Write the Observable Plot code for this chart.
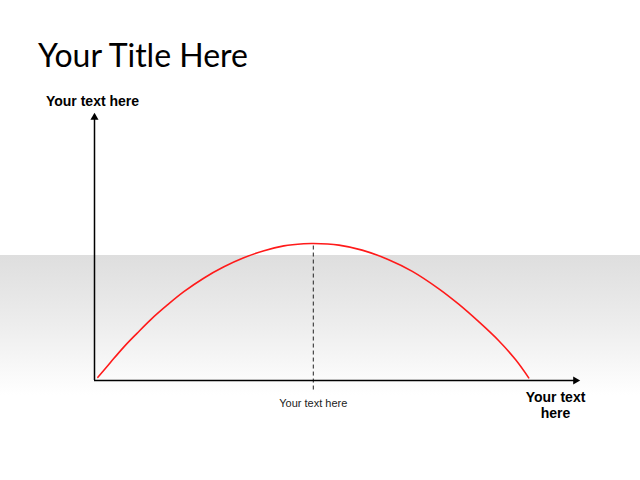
<!DOCTYPE html>
<html>
<head>
<meta charset="utf-8">
<script src="https://cdn.jsdelivr.net/npm/d3@7"></script>
<script src="https://cdn.jsdelivr.net/npm/@observablehq/plot@0.6"></script>
<style>
  html, body { margin: 0; padding: 0; background: #fff; }
  #wrap { position: relative; width: 640px; height: 480px; overflow: hidden; }
  #band { position: absolute; left: 0; top: 255px; width: 640px; height: 140px;
          background: linear-gradient(to bottom, #dedede 0%, #ededed 50%, #ffffff 100%); }
  #title { position: absolute; left: 38px; top: 39px; font-family: Lato, "Open Sans", sans-serif;
           font-size: 32px; line-height: 1; color: #000; white-space: nowrap; }
  #chart { position: absolute; left: 0; top: 0; }
</style>
</head>
<body>
<div id="wrap">
  <div id="band"></div>
  <div id="title">Your Title Here</div>
  <div id="chart"></div>
</div>
<script>
// Curve points (x, y in axis units 0..100)
const curveX = [0.7, 3.3, 6.1, 8.8, 11.6, 15.1, 18.5, 22.6, 26.8, 30.9, 35.1, 39.2, 43.3, 45.3, 50.6, 55.4, 60.9, 65.8, 71.3, 75.4, 79.6, 83.7, 87.2, 89.9];
const curveY = [1.2, 6.8, 12.7, 17.8, 22.9, 28.5, 33.5, 38.6, 42.9, 46.3, 49.0, 50.8, 51.6, 51.7, 51.1, 49.2, 45.6, 41.2, 34.6, 28.8, 22.1, 15.0, 7.8, 1.0];
const peak = {x: 45.3, y: 51.7, yLow: -3.6};
const axisMax = 100;
const yLabel = "Your text here";
const xLabel = "Your text\nhere";
const peakLabel = "Your text here";

const curve = curveX.map((x, i) => ({x, y: curveY[i]}));

const chart = Plot.plot({
  width: 640,
  height: 480,
  marginLeft: 94,
  marginRight: 63,
  marginTop: 115,
  marginBottom: 100,
  x: {domain: [0, axisMax], axis: null},
  y: {domain: [0, axisMax], axis: null},
  style: {background: "transparent", overflow: "visible"},
  marks: [
    // dashed peak line
    Plot.ruleX([peak], {x: "x", y1: "yLow", y2: "y", stroke: "#222", strokeWidth: 1, strokeDasharray: "4,3"}),
    // curve
    Plot.line(curve, {x: "x", y: "y", stroke: "#ff1a1a", strokeWidth: 1.6, curve: "catmull-rom"}),
    // axes
    Plot.ruleY([0], {x1: 0, x2: axisMax, stroke: "#000", strokeWidth: 1.5}),
    Plot.ruleX([0], {y1: 0, y2: axisMax, stroke: "#000", strokeWidth: 1.5}),
    Plot.dot([{x: axisMax, y: 0}], {x: "x", y: "y", symbol: "triangle", r: 3, fill: "#000", stroke: "none", rotate: 90, dx: -2}),
    Plot.dot([{x: 0, y: axisMax}], {x: "x", y: "y", symbol: "triangle", r: 3, fill: "#000", stroke: "none", dy: 2}),
    // labels
    Plot.text([yLabel], {x: () => 0, y: () => axisMax, text: d => d, dy: -14, dx: -2, fontSize: 14, fontWeight: "bold", fontFamily: "Liberation Sans, Arial, sans-serif", fill: "#000"}),
    Plot.text([peakLabel], {x: () => peak.x, y: () => 0, text: d => d, dy: 23, fontSize: 11, fontFamily: "Liberation Sans, Arial, sans-serif", fill: "#222"}),
    Plot.text([xLabel], {x: () => axisMax, y: () => 0, text: d => d, dx: -22, dy: 24, fontSize: 14, fontWeight: "bold", lineHeight: 1.15, fontFamily: "Liberation Sans, Arial, sans-serif", fill: "#000"})
  ]
});
document.getElementById("chart").appendChild(chart);
</script>
</body>
</html>
